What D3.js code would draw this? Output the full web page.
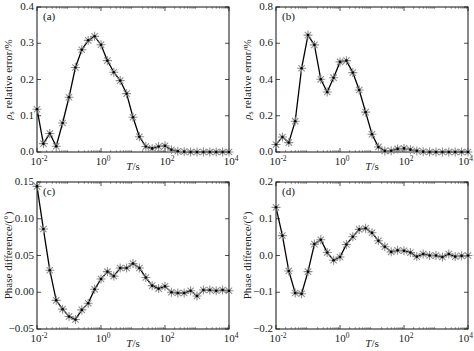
<!DOCTYPE html>
<html>
<head>
<meta charset="utf-8">
<script src="https://cdn.jsdelivr.net/npm/d3@7"></script>
<style>
  body { margin: 0; background: #fff; }
  svg { display: block; font-family: "Liberation Serif", "Times New Roman", serif; }
</style>
</head>
<body>
<div id="chart"></div>
<script>
// period T (s), 5 points per decade
const periods = [0.01, 0.01585, 0.02512, 0.03981, 0.0631, 0.1, 0.1585, 0.2512, 0.3981, 0.631,
  1, 1.585, 2.512, 3.981, 6.31, 10, 15.85, 25.12, 39.81, 63.1,
  100, 158.5, 251.2, 398.1, 631, 1000, 1585, 2512, 3981, 6310, 10000];

const rhoErrA = [0.118, 0.023, 0.051, 0.016, 0.080, 0.151, 0.233, 0.282, 0.308, 0.319,
  0.296, 0.252, 0.220, 0.197, 0.161, 0.096, 0.042, 0.015, 0.010, 0.015,
  0.017, 0.006, 0.002, 0.001, 0, 0, 0, 0, 0, 0, 0];
const rhoErrB = [0.041, 0.083, 0.052, 0.170, 0.462, 0.645, 0.591, 0.401, 0.331, 0.410,
  0.497, 0.504, 0.438, 0.342, 0.220, 0.098, 0.028, 0.006, 0.007, 0.017,
  0.020, 0.013, 0.006, 0.002, 0, 0, 0, 0, 0, 0, 0];
const phaseC = [0.144, 0.086, 0.030, -0.011, -0.023, -0.033, -0.037, -0.024, -0.015, 0.004,
  0.018, 0.028, 0.022, 0.033, 0.033, 0.039, 0.033, 0.020, 0.009, 0.005,
  0.008, 0.000, -0.001, -0.001, 0.002, -0.005, 0.003, 0.003, 0.002, 0.003, 0.002];
const phaseD = [0.131, 0.054, -0.042, -0.102, -0.104, -0.044, 0.031, 0.043, 0.008, -0.013,
  -0.004, 0.030, 0.051, 0.071, 0.074, 0.062, 0.040, 0.024, 0.010, 0.014,
  0.013, 0.008, -0.003, 0.004, 0.000, 0.000, -0.004, 0.004, -0.003, -0.001, 0.000];

const xTickExp = [-2, 0, 2, 4];
const yTicksA = [0, 0.1, 0.2, 0.3, 0.4];
const yTicksB = [0, 0.2, 0.4, 0.6, 0.8];
const yTicksC = [-0.05, 0, 0.05, 0.10, 0.15];
const yTicksD = [-0.2, -0.1, 0, 0.1, 0.2];

const W = 474, H = 351;
const svg = d3.select('#chart').append('svg')
  .attr('width', W).attr('height', H);

const panels = [
  {id: '(a)', vals: rhoErrA, ticks: yTicksA, fmt: d3.format('.1f'), kind: 'rho',
   box: {l: 37, r: 229, t: 7, b: 152}},
  {id: '(b)', vals: rhoErrB, ticks: yTicksB, fmt: d3.format('.1f'), kind: 'rho',
   box: {l: 276, r: 468, t: 7, b: 152}},
  {id: '(c)', vals: phaseC, ticks: yTicksC, fmt: d3.format('.2f'), kind: 'phase',
   box: {l: 37, r: 229, t: 182, b: 329}},
  {id: '(d)', vals: phaseD, ticks: yTicksD, fmt: d3.format('.1f'), kind: 'phase',
   box: {l: 276, r: 468, t: 182, b: 329}}
];

// asterisk marker like matlab '*'
function star(r) {
  const d = r * 0.7071;
  return `M${-r},0L${r},0M0,${-r}L0,${r}M${-d},${-d}L${d},${d}M${-d},${d}L${d},${-d}`;
}

panels.forEach(p => {
  const b = p.box;
  const x = d3.scaleLog().domain([0.01, 10000]).range([b.l, b.r]);
  const y = d3.scaleLinear().domain([p.ticks[0], p.ticks[p.ticks.length - 1]]).range([b.b, b.t]);
  const g = svg.append('g');

  // minor x ticks (top + bottom)
  const minor = [];
  for (let e = -2; e < 4; e++) for (let k = 2; k <= 9; k++) minor.push(k * Math.pow(10, e));
  g.selectAll('.mnb').data(minor).enter().append('line')
    .attr('x1', d => x(d)).attr('x2', d => x(d))
    .attr('y1', b.b).attr('y2', b.b - 2)
    .attr('stroke', '#555').attr('stroke-width', 0.6);
  g.selectAll('.mnt').data(minor).enter().append('line')
    .attr('x1', d => x(d)).attr('x2', d => x(d))
    .attr('y1', b.t).attr('y2', b.t + 2)
    .attr('stroke', '#555').attr('stroke-width', 0.6);

  // major x ticks
  xTickExp.forEach(e => {
    const xv = x(Math.pow(10, e));
    g.append('line').attr('x1', xv).attr('x2', xv).attr('y1', b.b).attr('y2', b.b - 4)
      .attr('stroke', '#222').attr('stroke-width', 0.8);
    g.append('line').attr('x1', xv).attr('x2', xv).attr('y1', b.t).attr('y2', b.t + 4)
      .attr('stroke', '#222').attr('stroke-width', 0.8);
    // keep the last label inside the window
    const edge = xv + 9 > W;
    const t = g.append('text').attr('x', edge ? W - 1 : xv + 2).attr('y', b.b + 13)
      .attr('text-anchor', edge ? 'end' : 'middle').attr('font-size', 11).attr('fill', '#222');
    t.append('tspan').text('10');
    t.append('tspan').attr('dy', -4).attr('font-size', 7.5).text(e < 0 ? '-' + (-e) : e);
  });

  // y ticks + labels
  p.ticks.forEach(v => {
    const yv = y(v);
    g.append('line').attr('x1', b.l).attr('x2', b.l + 4).attr('y1', yv).attr('y2', yv)
      .attr('stroke', '#222').attr('stroke-width', 0.8);
    g.append('line').attr('x1', b.r).attr('x2', b.r - 4).attr('y1', yv).attr('y2', yv)
      .attr('stroke', '#222').attr('stroke-width', 0.8);
    g.append('text').attr('x', b.l - 3).attr('y', yv + 3)
      .attr('text-anchor', 'end').attr('font-size', 11).attr('fill', '#222')
      .text(p.fmt(v));
  });

  // frame
  g.append('rect').attr('x', b.l).attr('y', b.t)
    .attr('width', b.r - b.l).attr('height', b.b - b.t)
    .attr('fill', 'none').attr('stroke', '#111').attr('stroke-width', 1);

  // line
  g.append('path').datum(p.vals)
    .attr('fill', 'none').attr('stroke', '#000').attr('stroke-width', 1.3)
    .attr('d', d3.line().x((d, i) => x(periods[i])).y(d => y(d)));

  // markers
  g.selectAll('.mk').data(p.vals).enter().append('path')
    .attr('transform', (d, i) => `translate(${x(periods[i])},${y(d)})`)
    .attr('d', star(4.5))
    .attr('stroke', '#909090').attr('stroke-width', 1.1).attr('fill', 'none');
  g.selectAll('.dot').data(p.vals).enter().append('circle')
    .attr('cx', (d, i) => x(periods[i])).attr('cy', d => y(d)).attr('r', 1.3)
    .attr('fill', '#000');

  // panel letter
  g.append('text').attr('x', b.l + 6).attr('y', b.t + 13)
    .attr('font-size', 11).attr('fill', '#111').text(p.id);

  // x title
  const xt = g.append('text').attr('x', (b.l + b.r) / 2).attr('y', b.b + 18)
    .attr('text-anchor', 'middle').attr('font-size', 11).attr('fill', '#222');
  xt.append('tspan').attr('font-style', 'italic').text('T');
  xt.append('tspan').text('/s');

  // y title
  const cy = (b.t + b.b) / 2;
  const yt = g.append('text')
    .attr('transform', `translate(${b.l - 25},${cy}) rotate(-90)`)
    .attr('text-anchor', 'middle').attr('font-size', 11).attr('fill', '#222');
  if (p.kind === 'rho') {
    yt.append('tspan').attr('font-style', 'italic').text('ρ');
    yt.append('tspan').attr('font-size', 8).attr('dy', 2).text('s');
    yt.append('tspan').attr('dy', -2).text(' relative error/%');
  } else {
    yt.append('tspan').text('Phase difference/(°)');
  }
});
</script>
</body>
</html>
